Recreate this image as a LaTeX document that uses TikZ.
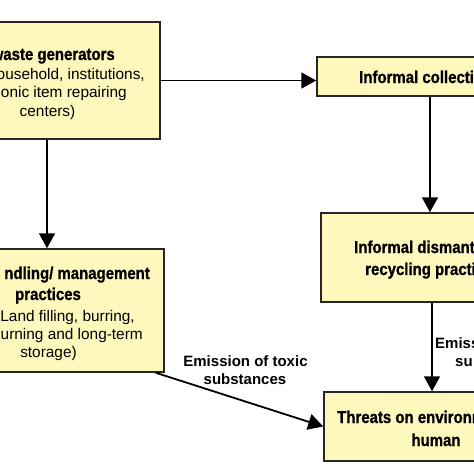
\documentclass[tikz,border=0pt]{standalone}
\usepackage{fontspec}
\setmainfont{Liberation Sans}
\newfontfamily\condb[FakeStretch=0.87,BoldFeatures={FakeBold=1}]{Liberation Sans}
\usetikzlibrary{arrows.meta}
\definecolor{boxfill}{RGB}{255,248,188}
\begin{document}
\begin{tikzpicture}[x=1pt,y=-1pt,
  box/.style={draw=black!85, line width=1.5pt, fill=boxfill, inner sep=0pt},
  arr/.style={line width=1.8pt, -{Triangle[length=15pt,width=16pt]}},
  hd/.style={font=\condb\bfseries\fontsize{17.2}{20}\selectfont, inner sep=0pt},
  tx/.style={font=\fontsize{15.4}{18.5}\selectfont, inner sep=0pt},
  lb/.style={font=\bfseries\fontsize{15}{18}\selectfont, inner sep=0pt}]
\useasboundingbox (0,0) rectangle (474,474);
\clip (0,0) rectangle (474,474);
% boxes
\node[box, minimum width=226pt, minimum height=117pt] (b1) at (47,80.5) {};
\node[box, minimum width=226pt, minimum height=39pt] (b2) at (430,76.5) {};
\node[box, minimum width=222pt, minimum height=89pt] (b3) at (432,257.5) {};
\node[box, minimum width=216pt, minimum height=69pt] (b4) at (432,426.5) {};
\node[box, minimum width=234pt, minimum height=123pt] (b5) at (47,310.5) {};
% connectors
\draw[arr] (b1.east) -- (b1.east -| b2.west);
\draw[arr] (b1.south) -- (b1.south |- b5.north);
\draw[arr] (b2.south) -- (b2.south |- b3.north);
\draw[arr] (b3.south) -- (b3.south |- b4.north);
\draw[arr] ([xshift=-9pt]b5.south east) -- (b4.west);
% box 1 text
\node[hd, anchor=base east] (t1a) at (115,60) {waste generators};
\node[tx, anchor=base east] (t1b) at (145,79) {ousehold, institutions,};
\node[tx, anchor=base east] (t1c) at (127,97.5) {onic item repairing};
\node[tx, anchor=base] (t1d) at (47.5,116) {centers)};
% box 2 text
\node[hd, anchor=base west] (t2) at (359,83) {Informal collecti};
% box 3 text
\node[hd, anchor=base west] (t3a) at (354,253) {Informal dismant};
\node[hd, anchor=base west] (t3b) at (365,275) {recycling practi};
% box 4 text
\node[hd, anchor=base west] (t4a) at (337,423) {Threats on environm};
\node[hd, anchor=base] (t4b) at (436,446) {human};
% box 5 text
\node[hd, anchor=base east] (t5a) at (150,279) {ndling/ management};
\node[hd, anchor=base] (t5b) at (48,300) {practices};
\node[tx, anchor=base east] (t5c) at (135,321) {Land filling, burring,};
\node[tx, anchor=base east] (t5d) at (143,339) {urning and long-term};
\node[tx, anchor=base] (t5e) at (48.5,357) {storage)};
% labels
\node[lb, anchor=base] (l1a) at (245.5,366) {Emission of toxic};
\node[lb, anchor=base] (l1b) at (245,384) {substances};
\node[lb, anchor=base west] (l2a) at (435,348) {Emiss};
\node[lb, anchor=base west] (l2b) at (455,366) {su};
\end{tikzpicture}
\end{document}
